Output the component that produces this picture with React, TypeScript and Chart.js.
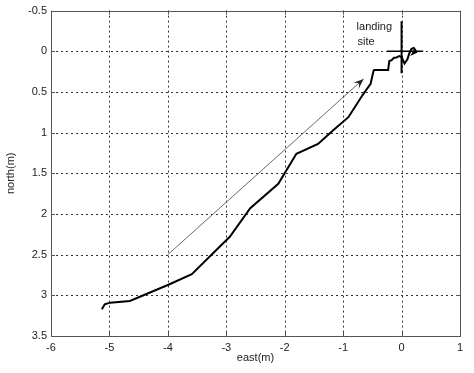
import React, { useEffect, useRef } from "react";
import { Chart, registerables } from "chart.js";

Chart.register(...registerables);

const pathEast = [-5.13, -5.08, -4.99, -4.65, -3.99, -3.59, -3.11, -2.94, -2.59, -2.11, -1.8, -1.43, -1.17, -0.91, -0.65, -0.53, -0.48, -0.47, -0.23, -0.21, -0.17, -0.13, -0.1, -0.04, 0.0, 0.05, 0.1, 0.13, 0.17, 0.21, 0.25, 0.19, 0.24];
const pathNorth = [3.17, 3.11, 3.09, 3.07, 2.87, 2.74, 2.4, 2.28, 1.93, 1.63, 1.26, 1.14, 0.97, 0.81, 0.52, 0.4, 0.24, 0.23, 0.23, 0.12, 0.11, 0.08, 0.08, 0.06, 0.07, 0.15, 0.1, 0.03, -0.03, -0.04, 0.01, 0.03, -0.03];

const arrowEast = [-4.0, -0.65];
const arrowNorth = [2.5, 0.34];

const crossHEast = [-0.25, 0.37];
const crossHNorth = [0, 0];
const crossVEast = [0, 0];
const crossVNorth = [-0.37, 0.27];

const xMin = -6, xMax = 1, xStep = 1;
const yMin = -0.5, yMax = 3.5, yStep = 0.5;

const xTitle = "east(m)";
const yTitle = "north(m)";
const noteLines = ["landing", "site"];

const toPts = (xs: number[], ys: number[]) => xs.map((x, i) => ({ x, y: ys[i] }));

const FONT = "'Liberation Sans', Arial, sans-serif";

export default function App() {
  const ref = useRef<HTMLCanvasElement | null>(null);
  useEffect(() => {
    document.body.style.margin = "0";
    const canvas = ref.current!;
    const gridPlugin = {
      id: "gridPlugin",
      beforeDatasetsDraw(chart: any) {
        const ctx = chart.ctx;
        const a = chart.chartArea;
        const xs = chart.scales.x;
        const ys = chart.scales.y;
        ctx.save();
        ctx.strokeStyle = "#333";
        ctx.lineWidth = 1;
        ctx.setLineDash([2, 3]);
        ctx.beginPath();
        for (let v = xMin + xStep; v < xMax - 1e-9; v += xStep) {
          const px = Math.round(xs.getPixelForValue(v)) + 0.5;
          ctx.moveTo(px, a.top); ctx.lineTo(px, a.bottom);
        }
        for (let v = yMin + yStep; v < yMax - 1e-9; v += yStep) {
          const py = Math.round(ys.getPixelForValue(v)) + 0.5;
          ctx.moveTo(a.left, py); ctx.lineTo(a.right, py);
        }
        ctx.stroke();
        ctx.restore();
      },
    };
    const decor = {
      id: "decor",
      afterDatasetsDraw(chart: any) {
        const ctx = chart.ctx;
        const a = chart.chartArea;
        const xs = chart.scales.x;
        const ys = chart.scales.y;
        ctx.save();
        ctx.strokeStyle = "#555";
        ctx.lineWidth = 1;
        ctx.setLineDash([]);
        ctx.strokeRect(Math.round(a.left) + 0.5, Math.round(a.top) + 0.5, Math.round(a.right - a.left), Math.round(a.bottom - a.top));
        ctx.beginPath();
        for (let v = yMin; v <= yMax + 1e-9; v += yStep) {
          const py = Math.round(ys.getPixelForValue(v)) + 0.5;
          ctx.moveTo(a.right, py); ctx.lineTo(a.right - 4, py);
          ctx.moveTo(a.left, py); ctx.lineTo(a.left + 4, py);
        }
        for (let v = xMin; v <= xMax + 1e-9; v += xStep) {
          const px = Math.round(xs.getPixelForValue(v)) + 0.5;
          ctx.moveTo(px, a.top); ctx.lineTo(px, a.top + 4);
          ctx.moveTo(px, a.bottom); ctx.lineTo(px, a.bottom - 4);
        }
        ctx.stroke();
        const n = arrowEast.length;
        const x1 = xs.getPixelForValue(arrowEast[n - 2]);
        const y1 = ys.getPixelForValue(arrowNorth[n - 2]);
        const x2 = xs.getPixelForValue(arrowEast[n - 1]);
        const y2 = ys.getPixelForValue(arrowNorth[n - 1]);
        const ang = Math.atan2(y2 - y1, x2 - x1);
        const L = 10, W = 4;
        ctx.fillStyle = "#222";
        ctx.beginPath();
        ctx.moveTo(x2, y2);
        ctx.lineTo(x2 - L * Math.cos(ang) + W * Math.sin(ang), y2 - L * Math.sin(ang) - W * Math.cos(ang));
        ctx.lineTo(x2 - 0.6 * L * Math.cos(ang), y2 - 0.6 * L * Math.sin(ang));
        ctx.lineTo(x2 - L * Math.cos(ang) - W * Math.sin(ang), y2 - L * Math.sin(ang) + W * Math.cos(ang));
        ctx.closePath();
        ctx.fill();
        ctx.fillStyle = "#222";
        ctx.font = `11px ${FONT}`;
        ctx.textAlign = "left";
        ctx.textBaseline = "middle";
        const tx = xs.getPixelForValue(-0.77);
        ctx.fillText(noteLines[0], tx, ys.getPixelForValue(-0.3));
        ctx.fillText(noteLines[1], tx + 1, ys.getPixelForValue(-0.12));
        ctx.textAlign = "center";
        ctx.fillText(xTitle, (a.left + a.right) / 2, 358);
        ctx.save();
        ctx.translate(11, (a.top + a.bottom) / 2);
        ctx.rotate(-Math.PI / 2);
        ctx.fillText(yTitle, 0, 0);
        ctx.restore();
        ctx.restore();
      },
    };
    const fmt = (v: any) => String(Math.round(Number(v) * 100) / 100);
    const chart = new Chart(canvas, {
      type: "scatter",
      data: {
        datasets: [
          { data: toPts(arrowEast, arrowNorth), showLine: true, borderColor: "#444", borderWidth: 0.8, pointRadius: 0 },
          { data: toPts(crossHEast, crossHNorth), showLine: true, borderColor: "#000", borderWidth: 1.6, pointRadius: 0 },
          { data: toPts(crossVEast, crossVNorth), showLine: true, borderColor: "#000", borderWidth: 2, pointRadius: 0 },
          { data: toPts(pathEast, pathNorth), showLine: true, borderColor: "#000", borderWidth: 2, pointRadius: 0, tension: 0 },
        ],
      },
      plugins: [gridPlugin, decor],
      options: {
        animation: false,
        responsive: false,
        maintainAspectRatio: false,
        layout: { padding: { top: 10, right: 14, left: 0, bottom: 0 } },
        plugins: { legend: { display: false }, tooltip: { enabled: false } },
        scales: {
          x: {
            type: "linear",
            min: xMin,
            max: xMax,
            ticks: { stepSize: xStep, color: "#222", font: { family: FONT, size: 11 }, padding: 5, callback: fmt },
            grid: { display: false, drawTicks: false },
            border: { display: false },
            afterFit: (s: any) => { s.height = 37; },
          },
          y: {
            type: "linear",
            min: yMin,
            max: yMax,
            reverse: true,
            ticks: { stepSize: yStep, color: "#222", font: { family: FONT, size: 11 }, padding: 4, callback: fmt },
            grid: { display: false, drawTicks: false },
            border: { display: false },
            afterFit: (s: any) => { s.width = 51; },
          },
        },
      },
    });
    return () => chart.destroy();
  }, []);
  return <canvas ref={ref} width={474} height={373} style={{ display: "block", background: "#fff" }} />;
}
